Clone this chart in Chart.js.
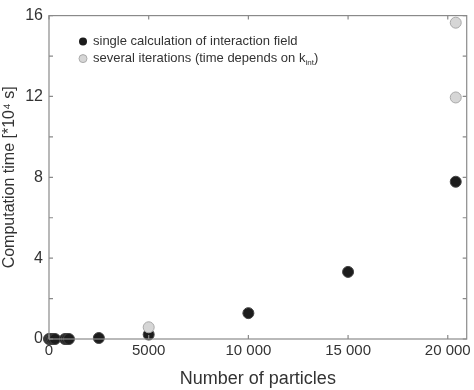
<!DOCTYPE html>
<html>
<head>
<meta charset="utf-8">
<script src="https://cdn.jsdelivr.net/npm/chart.js@4.4.0/dist/chart.umd.min.js"></script>
<style>
  html, body { margin: 0; padding: 0; background: #fff; }
  #wrap { width: 474px; height: 390px; }
</style>
</head>
<body>
<div id="wrap"><canvas id="myChart" width="474" height="390"></canvas></div>
<script>
// number of particles / computation time (*10^4 s)
const singleX = [0, 60, 120, 200, 300, 800, 900, 1000, 2500, 5000, 10000, 15000, 20400];
const singleY = [0, 0, 0, 0, 0, 0, 0, 0, 0.05, 0.22, 1.28, 3.32, 7.78];

const iterX = [5000, 20400, 20400];
const iterY = [0.58, 11.95, 15.65];

const xTicks = [0, 5000, 10000, 15000, 20000];
const yTicks = [0, 4, 8, 12, 16];

const legendSingle = "single calculation of interaction field";
const legendIter = "several iterations (time depends on k";

const textColor = "#333";
const axisColor = "#8a8a8a";

function pts(xs, ys) {
  return xs.map((x, i) => ({ x: x, y: ys[i] }));
}

function fmt(v) {
  if (v >= 10000) {
    const s = String(v);
    return s.slice(0, s.length - 3) + " " + s.slice(-3);
  }
  return String(v);
}

// frame, inward ticks and legend inside the plot
const framePlugin = {
  id: "frame",
  afterDraw(chart) {
    const ctx = chart.ctx;
    const a = chart.chartArea;
    const xs = chart.scales.x;
    const ys = chart.scales.y;
    ctx.save();
    ctx.strokeStyle = axisColor;
    ctx.lineWidth = 1.2;
    ctx.strokeRect(a.left, a.top, a.right - a.left, a.bottom - a.top);
    ctx.beginPath();
    xTicks.forEach((t) => {
      const px = xs.getPixelForValue(t);
      ctx.moveTo(px, a.bottom); ctx.lineTo(px, a.bottom - 4);
      ctx.moveTo(px, a.top); ctx.lineTo(px, a.top + 4);
    });
    for (let t = 0; t <= 16; t += 2) {
      const py = ys.getPixelForValue(t);
      ctx.moveTo(a.left, py); ctx.lineTo(a.left + 4, py);
      ctx.moveTo(a.right, py); ctx.lineTo(a.right - 4, py);
    }
    ctx.stroke();

    // legend
    const lx = a.left + 34;
    const ly1 = a.top + 26;
    const ly2 = a.top + 43;
    ctx.beginPath();
    ctx.arc(lx, ly1, 4, 0, Math.PI * 2);
    ctx.fillStyle = "#1c1c1c";
    ctx.fill();
    ctx.beginPath();
    ctx.arc(lx, ly2, 4, 0, Math.PI * 2);
    ctx.fillStyle = "#d6d6d6";
    ctx.fill();
    ctx.strokeStyle = "#aaa";
    ctx.lineWidth = 1;
    ctx.stroke();

    ctx.fillStyle = textColor;
    ctx.textBaseline = "middle";
    ctx.textAlign = "left";
    ctx.font = "13px 'Liberation Sans', Arial, sans-serif";
    ctx.fillText(legendSingle, lx + 10, ly1);
    ctx.fillText(legendIter, lx + 10, ly2);
    let w = ctx.measureText(legendIter).width;
    ctx.font = "8px 'Liberation Sans', Arial, sans-serif";
    ctx.fillText("int", lx + 10 + w, ly2 + 4);
    const w2 = ctx.measureText("int").width;
    ctx.font = "13px 'Liberation Sans', Arial, sans-serif";
    ctx.fillText(")", lx + 10 + w + w2, ly2);
    ctx.restore();
  }
};

const divChart = document.getElementById("myChart");

const myChart = new Chart(divChart, {
  type: "scatter",
  data: {
    datasets: [
      {
        label: "iterations",
        data: pts(iterX, iterY),
        backgroundColor: "#d6d6d6",
        borderColor: "#a8a8a8",
        borderWidth: 1,
        pointRadius: 5.5,
        clip: false
      },
      {
        label: "single",
        data: pts(singleX, singleY),
        backgroundColor: "#1c1c1c",
        borderColor: "#444",
        borderWidth: 1,
        pointRadius: 5.5,
        clip: false
      }
    ]
  },
  options: {
    responsive: false,
    animation: false,
    layout: { padding: { top: 8, right: 6, left: 0, bottom: 0 } },
    plugins: {
      legend: { display: false },
      tooltip: { enabled: false }
    },
    scales: {
      x: {
        type: "linear",
        min: 0,
        max: 20950,
        afterBuildTicks: (scale) => {
          scale.ticks = xTicks.map((v) => ({ value: v }));
        },
        afterFit: (scale) => { scale.height = 51; },
        grid: { display: false, drawTicks: false },
        border: { display: false },
        ticks: {
          color: textColor,
          padding: 3,
          maxRotation: 0,
          font: { family: "'Liberation Sans', Arial, sans-serif", size: 15 },
          callback: (v) => fmt(v)
        },
        title: {
          display: true,
          text: "Number of particles",
          color: textColor,
          padding: { top: 3, bottom: 0 },
          font: { family: "'Liberation Sans', Arial, sans-serif", size: 18 }
        }
      },
      y: {
        type: "linear",
        min: 0,
        max: 16,
        afterBuildTicks: (scale) => {
          scale.ticks = yTicks.map((v) => ({ value: v }));
        },
        afterFit: (scale) => { scale.width = 49; },
        grid: { display: false, drawTicks: false },
        border: { display: false },
        ticks: {
          color: textColor,
          padding: 6,
          font: { family: "'Liberation Sans', Arial, sans-serif", size: 16 }
        },
        title: {
          display: true,
          text: "Computation time [*10\u2074 s]",
          color: textColor,
          padding: { top: 0, bottom: 2 },
          font: { family: "'Liberation Sans', Arial, sans-serif", size: 16 }
        }
      }
    }
  },
  plugins: [framePlugin]
});
</script>
</body>
</html>
